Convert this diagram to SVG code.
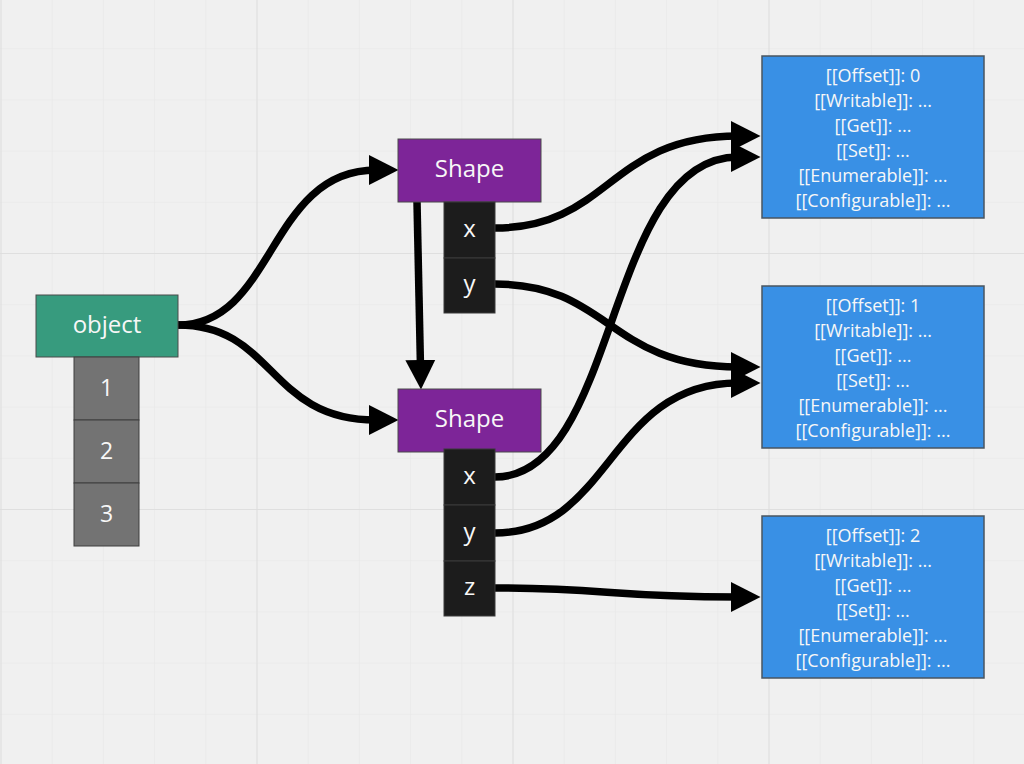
<svg xmlns="http://www.w3.org/2000/svg" width="1024" height="764" viewBox="0 0 1024 764">
  <defs>
    <pattern id="minor" x="0.5" y="-3" width="51.2" height="51.2" patternUnits="userSpaceOnUse">
      <path d="M0,0 V51.2 M0,0 H51.2" fill="none" stroke="#e6e6e6" stroke-width="1"/>
    </pattern>
    <pattern id="major" x="0.5" y="-3" width="256" height="256" patternUnits="userSpaceOnUse">
      <path d="M0,0 V256 M0,0 H256" fill="none" stroke="#dcdcdc" stroke-width="1.5"/>
    </pattern>
    <marker id="arrow" markerUnits="userSpaceOnUse" markerWidth="30" markerHeight="32" viewBox="0 0 30 32" refX="7" refY="16" orient="auto">
      <path d="M0,1 L29.5,16 L0,31 Z" fill="#000"/>
    </marker>
    <style>
      .lbl { font-family: "Open Sans", "Noto Sans", "Liberation Sans", sans-serif; fill: #f7f7f7; text-anchor: middle; }
      .big { font-size: 24px; }
      .cell { font-size: 23px; }
      .info { font-size: 18px; }
      .obj { fill: #379b7e; stroke: #4a4a4a; stroke-width: 1; }
      .shape { fill: #7d2598; stroke: #4a4a4a; stroke-width: 1; }
      .gcell { fill: #737373; stroke: #3e3e3e; stroke-width: 1; }
      .bcell { fill: #1c1c1c; stroke: #3a3a3a; stroke-width: 1; }
      .desc { fill: #3990e5; stroke: #4a5560; stroke-width: 1.5; }
      .conn { fill: none; stroke: #000; stroke-width: 7.5; marker-end: url(#arrow); }
    </style>
  </defs>

  <rect x="0" y="0" width="1024" height="764" fill="#f0f0f0"/>
  <rect x="0" y="0" width="1024" height="764" fill="url(#minor)"/>
  <rect x="0" y="0" width="1024" height="764" fill="url(#major)"/>

  <g id="connectors">
    <path class="conn" d="M178,325 C275,325 268,170 376,170"/>
    <path class="conn" d="M178,325 C275,325 268,420 376,420"/>
    <path class="conn" d="M417,202 L420.5,367"/>
    <path class="conn" d="M495,228 C610,228 608,136 738,136"/>
    <path class="conn" d="M495,477 C620,477 604,157 738,157"/>
    <path class="conn" d="M495,284 C610,284 608,367 738,367"/>
    <path class="conn" d="M495,533 C612,533 608,383 738,383"/>
    <path class="conn" d="M495,588 C608,588 608,597 738,597"/>
  </g>

  <g id="object">
    <rect class="obj" x="36" y="295" width="142" height="62"/>
    <text class="lbl big" x="107" y="333">object</text>
  </g>
  <g id="elem1">
    <rect class="gcell" x="74" y="357" width="65" height="63"/>
    <text class="lbl cell" x="106.5" y="396">1</text>
  </g>
  <g id="elem2">
    <rect class="gcell" x="74" y="420" width="65" height="63"/>
    <text class="lbl cell" x="106.5" y="459">2</text>
  </g>
  <g id="elem3">
    <rect class="gcell" x="74" y="483" width="65" height="63"/>
    <text class="lbl cell" x="106.5" y="522">3</text>
  </g>

  <g id="shape1">
    <rect class="shape" x="398" y="139" width="143" height="63"/>
    <text class="lbl big" x="469.5" y="177">Shape</text>
  </g>
  <g id="shape1-x">
    <rect class="bcell" x="444" y="202" width="51" height="56"/>
    <text class="lbl big" x="469.5" y="237">x</text>
  </g>
  <g id="shape1-y">
    <rect class="bcell" x="444" y="258" width="51" height="55"/>
    <text class="lbl big" x="469.5" y="292">y</text>
  </g>

  <g id="shape2">
    <rect class="shape" x="398" y="389" width="143" height="63"/>
    <text class="lbl big" x="469.5" y="427">Shape</text>
  </g>
  <g id="shape2-x">
    <rect class="bcell" x="444" y="449" width="51" height="56"/>
    <text class="lbl big" x="469.5" y="484">x</text>
  </g>
  <g id="shape2-y">
    <rect class="bcell" x="444" y="505" width="51" height="56"/>
    <text class="lbl big" x="469.5" y="540">y</text>
  </g>
  <g id="shape2-z">
    <rect class="bcell" x="444" y="561" width="51" height="55"/>
    <text class="lbl big" x="469.5" y="595">z</text>
  </g>

  <g id="desc0">
    <rect class="desc" x="762" y="56" width="222" height="162"/>
    <text class="lbl info" x="873" y="82">[[Offset]]: 0</text>
    <text class="lbl info" x="873" y="107">[[Writable]]: ...</text>
    <text class="lbl info" x="873" y="132">[[Get]]: ...</text>
    <text class="lbl info" x="873" y="157">[[Set]]: ...</text>
    <text class="lbl info" x="873" y="182">[[Enumerable]]: ...</text>
    <text class="lbl info" x="873" y="207">[[Configurable]]: ...</text>
  </g>
  <g id="desc1">
    <rect class="desc" x="762" y="286" width="222" height="162"/>
    <text class="lbl info" x="873" y="312">[[Offset]]: 1</text>
    <text class="lbl info" x="873" y="337">[[Writable]]: ...</text>
    <text class="lbl info" x="873" y="362">[[Get]]: ...</text>
    <text class="lbl info" x="873" y="387">[[Set]]: ...</text>
    <text class="lbl info" x="873" y="412">[[Enumerable]]: ...</text>
    <text class="lbl info" x="873" y="437">[[Configurable]]: ...</text>
  </g>
  <g id="desc2">
    <rect class="desc" x="762" y="516" width="222" height="162"/>
    <text class="lbl info" x="873" y="542">[[Offset]]: 2</text>
    <text class="lbl info" x="873" y="567">[[Writable]]: ...</text>
    <text class="lbl info" x="873" y="592">[[Get]]: ...</text>
    <text class="lbl info" x="873" y="617">[[Set]]: ...</text>
    <text class="lbl info" x="873" y="642">[[Enumerable]]: ...</text>
    <text class="lbl info" x="873" y="667">[[Configurable]]: ...</text>
  </g>
</svg>
